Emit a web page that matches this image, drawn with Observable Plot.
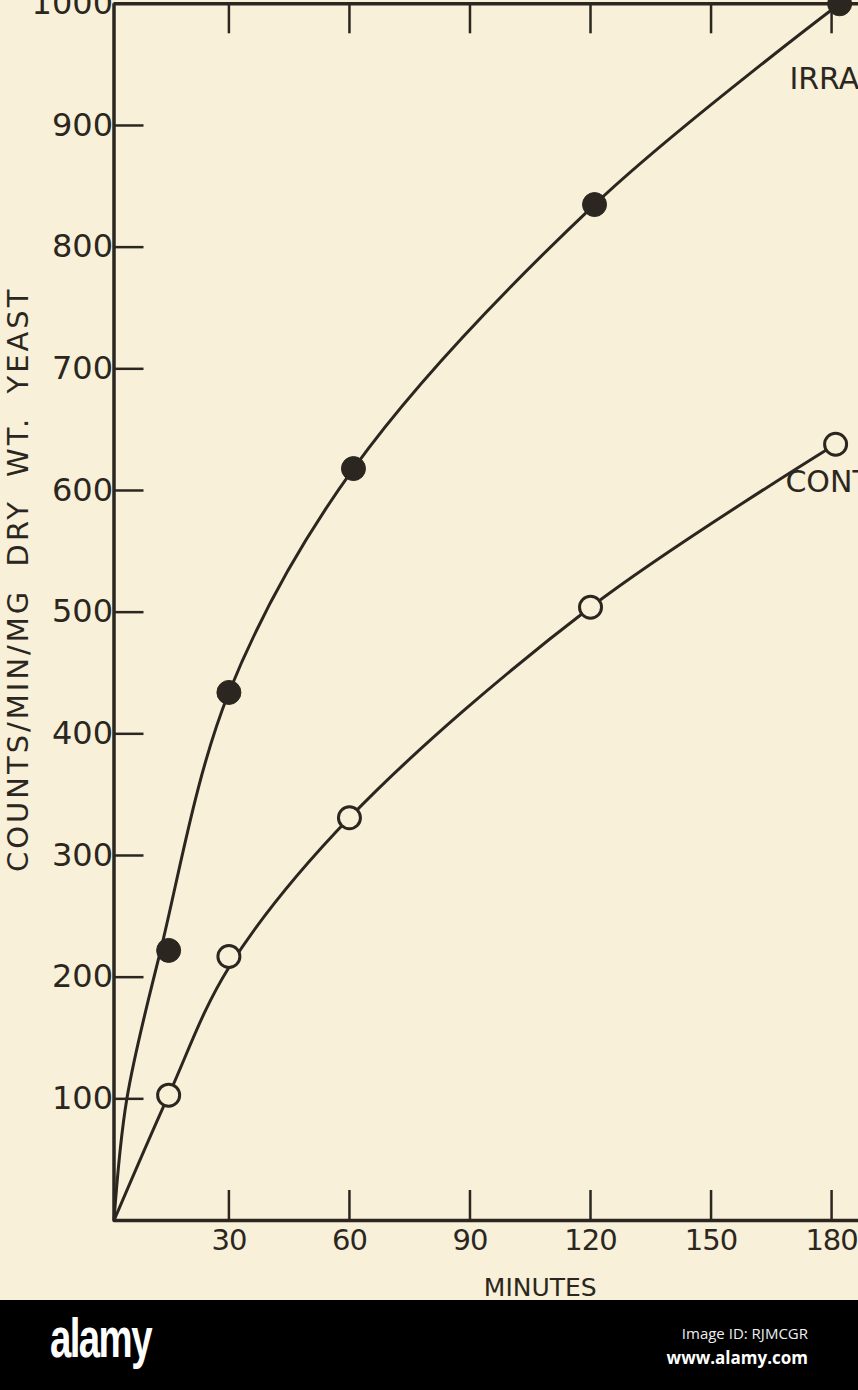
<!DOCTYPE html>
<html>
<head>
<meta charset="utf-8">
<script src="https://cdn.jsdelivr.net/npm/d3@7"></script>
<script src="https://cdn.jsdelivr.net/npm/@observablehq/plot@0.6"></script>
<style>
  html, body { margin: 0; padding: 0; background: #f8f0d8; width: 858px; overflow: hidden; }
  #chart svg { display: block; overflow: hidden; }
  #band { position: relative; height: 90px; background: #000; color: #fff; font-family: "Open Sans", "DejaVu Sans", sans-serif; }
  #logo { position: absolute; left: 50px; top: 6px; font-family: "Liberation Sans", sans-serif; font-weight: bold; font-size: 48px; letter-spacing: -2px; transform: scale(0.8, 1.15); transform-origin: left top; color: #fff; }
  #imgid { position: absolute; right: 50px; top: 23px; font-size: 15px; color: #eee; }
  #www { position: absolute; right: 50px; top: 46px; font-size: 17px; font-weight: bold; color: #fff; }
</style>
</head>
<body>
<div id="chart"></div>
<div id="band">
  <div id="logo">alamy</div>
  <div id="imgid">Image ID: RJMCGR</div>
  <div id="www">www.alamy.com</div>
</div>
<script>
// ---- data ----
const irradMinutes = [15, 30, 61, 121, 182];
const irradCounts  = [222, 434, 618, 835, 1000];
const controlMinutes = [15, 30, 60, 120, 181];
const controlCounts  = [103, 217, 331, 504, 638];
// points along the hand-drawn curves
const irradCurveMinutes = [1.4, 4.6, 13, 30, 61, 121, 182];
const irradCurveCounts  = [0, 100, 222, 434, 618, 835, 1000];
const controlCurveMinutes = [1.4, 15, 30, 60, 120, 181];
const controlCurveCounts  = [0, 103, 208, 331, 504, 638];
const xTicks = [30, 60, 90, 120, 150, 180];
const yTicks = [100, 200, 300, 400, 500, 600, 700, 800, 900, 1000];
const seriesLabels = ["IRRADIATED", "CONTROL"];
const labelMinutes = [169.5, 168.5];
const labelCounts  = [930, 599];
const xTitle = "MINUTES";
const yTitle = "COUNTS/MIN/MG DRY WT. YEAST";
const xDomain = [1.4, 186.7];
const yDomain = [0, 1000];

// ---- build tables ----
const zip = (xs, ys) => xs.map((x, i) => ({x, y: ys[i]}));
const irrad = zip(irradMinutes, irradCounts);
const control = zip(controlMinutes, controlCounts);
const irradCurve = zip(irradCurveMinutes, irradCurveCounts);
const controlCurve = zip(controlCurveMinutes, controlCurveCounts);
const labels = seriesLabels.map((t, i) => ({t, x: labelMinutes[i], y: labelCounts[i]}));

const W = 858, H = 1300, mL = 113.5, mR = 0, mT = 3.3, mB = 80;
const plotW = W - mL - mR, plotH = H - mT - mB;
const ink = "#2b2720";
const bg = "#f8f0d8";
const font = "'DejaVu Sans', 'Liberation Sans', sans-serif";
const tickLen = 30;

const chart = Plot.plot({
  width: W, height: H,
  marginLeft: mL, marginRight: mR, marginTop: mT, marginBottom: mB,
  style: {background: bg, color: ink, fontFamily: font, fontSize: "32px", overflow: "hidden"},
  x: {domain: xDomain, axis: null},
  y: {domain: yDomain, axis: null},
  marks: [
    // frame: left, bottom, top
    Plot.ruleX([xDomain[0]], {stroke: ink, strokeWidth: 3.5}),
    Plot.ruleY([yDomain[0]], {stroke: ink, strokeWidth: 3.5}),
    Plot.ruleY([yDomain[1]], {stroke: ink, strokeWidth: 3.5}),
    // inward ticks
    Plot.tickY(yTicks.filter(d => d < 1000), {y: d => d, stroke: ink, strokeWidth: 2.5, insetRight: plotW - tickLen}),
    Plot.tickX(xTicks, {x: d => d, stroke: ink, strokeWidth: 2.5, insetTop: plotH - tickLen}),
    Plot.tickX(xTicks, {x: d => d, stroke: ink, strokeWidth: 2.5, insetBottom: plotH - tickLen}),
    // tick labels
    Plot.axisY(yTicks, {anchor: "left", tickSize: 0, tickPadding: 1, fontSize: 32, fill: ink, label: null, tickFormat: d => String(d)}),
    Plot.axisX(xTicks, {anchor: "bottom", tickSize: 0, tickPadding: 9, fontSize: 29, fill: ink, label: null, tickFormat: d => String(d)}),
    // axis titles
    Plot.text([xTitle], {x: () => 107.5, y: () => 0, text: d => d, dy: 67, fontSize: 25, fill: ink, lineAnchor: "middle"}),
    Plot.text([yTitle], {x: () => xDomain[0], y: () => 527, text: d => d, dx: -95.5, rotate: -90, fontSize: 29, fill: ink, lineAnchor: "middle"}),
    // curves
    Plot.line(irradCurve, {x: "x", y: "y", curve: "catmull-rom", stroke: ink, strokeWidth: 3}),
    Plot.line(controlCurve, {x: "x", y: "y", curve: "catmull-rom", stroke: ink, strokeWidth: 3}),
    // points
    Plot.dot(irrad, {x: "x", y: "y", r: 12, fill: ink, stroke: ink, strokeWidth: 1}),
    Plot.dot(control, {x: "x", y: "y", r: 11, fill: bg, stroke: ink, strokeWidth: 3}),
    // series labels (cut by the right edge, as in the original)
    Plot.text(labels, {x: "x", y: "y", text: "t", textAnchor: "start", lineAnchor: "bottom", fontSize: 30, fill: ink})
  ]
});
document.getElementById("chart").appendChild(chart);

// widen the y title letter spacing like the original lettering
d3.select(chart).selectAll("text").filter(function() { return this.textContent === yTitle; })
  .attr("letter-spacing", "3px").attr("word-spacing", "10px");
// tighten the minute labels a little, as in the original lettering
d3.select(chart).selectAll("text").filter(function() { return xTicks.map(String).includes(this.textContent); })
  .attr("letter-spacing", "-1px");
</script>
</body>
</html>
